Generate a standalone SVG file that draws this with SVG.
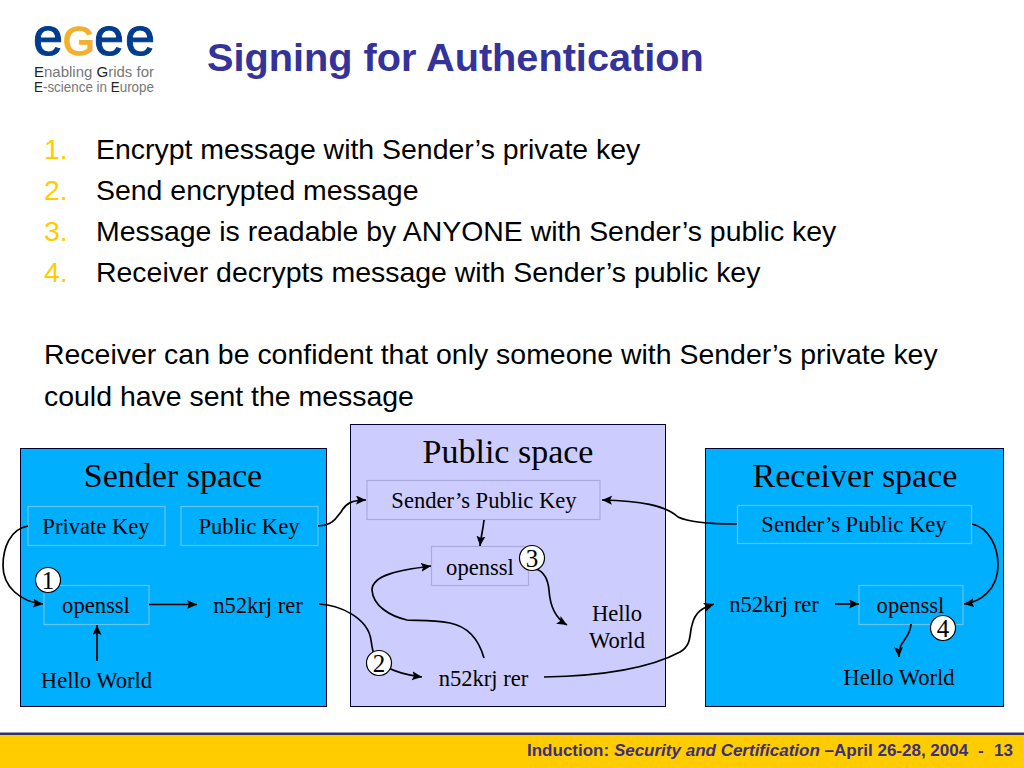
<svg xmlns="http://www.w3.org/2000/svg" width="1024" height="768" viewBox="0 0 1024 768">
<style>
.b{font-family:"Liberation Sans",Arial,sans-serif;font-size:28.45px;fill:#000}
.n{font-family:"Liberation Sans",Arial,sans-serif;font-size:28.45px;fill:#ffcc00}
.s{font-family:"Liberation Serif","Times New Roman",serif;font-size:22.6px;fill:#000;text-anchor:middle}
.t{font-family:"Liberation Serif","Times New Roman",serif;font-size:34px;fill:#000;text-anchor:middle}
.d{font-family:"Liberation Serif","Times New Roman",serif;font-size:25px;fill:#000;text-anchor:middle}
.sp{stroke:#000033;stroke-width:1}
.bx{fill:none;stroke:#66c4e8;stroke-width:1.2}
.bp{fill:none;stroke:#aaaadd;stroke-width:1.2}
.c{fill:none;stroke:#000;stroke-width:1.7}
.o{fill:#fff;stroke:#000;stroke-width:1.2}
.f{font-family:"Liberation Sans",Arial,sans-serif;font-size:17px;font-weight:bold;fill:#3c2f7c}
.l{font-family:"Liberation Sans",Arial,sans-serif;font-size:15.5px;fill:#777}
.k{fill:#222}
</style>
<defs><marker id="a" markerUnits="userSpaceOnUse" markerWidth="12" markerHeight="10" refX="10" refY="4.5" orient="auto"><path d="M0 0L10 4.5L0 9L2 4.5Z" fill="#000"/></marker></defs>
<rect width="1024" height="768" fill="#fff"/>
<g id="logo">
<text y="54.500" font-family="'Liberation Sans',sans-serif" font-size="54" fill="#003c8f" stroke="#003c8f" stroke-width="1"><tspan x="33">e</tspan><tspan x="94">e</tspan><tspan x="125">e</tspan></text>
<text x="63" y="55" font-family="'Liberation Sans',sans-serif" font-size="41" fill="#f2b12c" stroke="#f2b12c" stroke-width="1.500">G</text>
<text class="l" x="34" y="77" textLength="120" lengthAdjust="spacingAndGlyphs"><tspan class="k">E</tspan>nabling <tspan class="k">G</tspan>rids for</text>
<text class="l" x="34" y="92" textLength="120" lengthAdjust="spacingAndGlyphs"><tspan class="k">E</tspan>-science in <tspan class="k">E</tspan>urope</text>
</g>
<text id="title" x="207" y="70.500" font-family="'Liberation Sans',Arial,sans-serif" font-size="39.7px" font-weight="bold" fill="#333399">Signing for Authentication</text>
<g id="list">
<text class="n" x="44" y="158.500">1.</text><text class="b" x="96" y="158.500">Encrypt message with Sender’s private key</text>
<text class="n" x="44" y="199.500">2.</text><text class="b" x="96" y="199.500">Send encrypted message</text>
<text class="n" x="44" y="240.500">3.</text><text class="b" x="96" y="240.500">Message is readable by ANYONE with Sender’s public key</text>
<text class="n" x="44" y="281.500">4.</text><text class="b" x="96" y="281.500">Receiver decrypts message with Sender’s public key</text>
<text class="b" x="44" y="363.500">Receiver can be confident that only someone with Sender’s private key</text>
<text class="b" x="44" y="405.500">could have sent the message</text>
</g>
<g id="sender-space"><rect class="sp" x="20.500" y="448.500" width="306" height="258" fill="#00b0ff"/><text class="t" x="173" y="487">Sender space</text></g>
<g id="public-space"><rect class="sp" x="350.500" y="424.500" width="315" height="282" fill="#ccccff"/><text class="t" x="508" y="463">Public space</text></g>
<g id="receiver-space"><rect class="sp" x="705.500" y="448.500" width="298" height="258" fill="#00b0ff"/><text class="t" x="855" y="487">Receiver space</text></g>
<g id="private-key"><rect class="bx" x="28" y="506.500" width="137" height="39"/><text class="s" x="96" y="534">Private Key</text></g>
<g id="public-key"><rect class="bx" x="181" y="506.500" width="137" height="39"/><text class="s" x="249" y="534">Public Key</text></g>
<g id="openssl-s"><rect class="bx" x="44" y="585.500" width="105" height="39"/><text class="s" x="96" y="613">openssl</text></g>
<g id="n52-s"><text class="s" x="258" y="613">n52krj rer</text></g>
<g id="hello-s"><text class="s" x="96.500" y="688">Hello World</text></g>
<g id="spk-p"><rect class="bp" x="367" y="480.500" width="233" height="39"/><text class="s" x="484" y="508">Sender’s Public Key</text></g>
<g id="openssl-p"><rect class="bp" x="431.500" y="546.500" width="97" height="39"/><text class="s" x="480" y="575">openssl</text></g>
<g id="hello-p"><text class="s" x="617" y="621">Hello</text><text class="s" x="617" y="648">World</text></g>
<g id="n52-p"><text class="s" x="483.500" y="686">n52krj rer</text></g>
<g id="spk-r"><rect class="bx" x="737.500" y="505.500" width="234" height="38"/><text class="s" x="854" y="532">Sender’s Public Key</text></g>
<g id="n52-r"><text class="s" x="774" y="612">n52krj rer</text></g>
<g id="openssl-r"><rect class="bx" x="859" y="585.500" width="104" height="39"/><text class="s" x="910.500" y="613">openssl</text></g>
<g id="hello-r"><text class="s" x="899" y="685">Hello World</text></g>
<g id="connectors">
<path class="c" marker-end="url(#a)" d="M28 526C10 529 3 548 3 566C3 586 20 602 43 604"/>
<path class="c" marker-end="url(#a)" d="M149 604.500H197"/>
<path class="c" marker-end="url(#a)" d="M97 661V625"/>
<path class="c" marker-end="url(#a)" d="M318 526C335 525 337 516 341 512C346 503 352 500 366 500"/>
<path class="c" marker-end="url(#a)" d="M319 604C340 605 368 618 371 640C373 655 375 662 385 666C395 672 405 675 422 677"/>
<path class="c" marker-end="url(#a)" d="M484 658C478 637 465 626 450 623C430 619 415 621 407 620C390 616 373 606 372 590C372 575 400 570 431 566"/>
<path class="c" marker-end="url(#a)" d="M484 520C483 530 481 536 480 546"/>
<path class="c" marker-end="url(#a)" d="M536 569C545 572 548 580 549 590C550 606 555 618 567 625"/>
<path class="c" marker-end="url(#a)" d="M544 677C600 676 650 668 680 652C692 645 689 635 692 625C695 612 702 608 714 604"/>
<path class="c" marker-end="url(#a)" d="M737 524C715 524 690 523 678 517C665 505 640 501 602 500"/>
<path class="c" marker-end="url(#a)" d="M835 604H859"/>
<path class="c" marker-end="url(#a)" d="M972 524C990 528 998 548 998 565C998 590 980 602 964 604"/>
<path class="c" marker-end="url(#a)" d="M911 624C910 640 898 640 899 657"/>
</g>
<g id="badge-1"><circle class="o" cx="48" cy="580" r="12.500"/><text class="d" x="48" y="589">1</text></g>
<g id="badge-2"><circle class="o" cx="379" cy="663" r="12.500"/><text class="d" x="379" y="672">2</text></g>
<g id="badge-3"><circle class="o" cx="532" cy="558" r="12.500"/><text class="d" x="532" y="567">3</text></g>
<g id="badge-4"><circle class="o" cx="943" cy="628" r="12.500"/><text class="d" x="943" y="637">4</text></g>
<g id="footer"><rect y="733" width="1024" height="35" fill="#ffcc00"/><rect y="732.500" width="1024" height="2.500" fill="#333366"/>
<text class="f" x="527" y="756">Induction: <tspan font-style="italic">Security and Certification </tspan>–April 26-28, 2004</text>
<text class="f" x="978" y="756">-</text><text class="f" x="994" y="756">13</text></g>
</svg>
